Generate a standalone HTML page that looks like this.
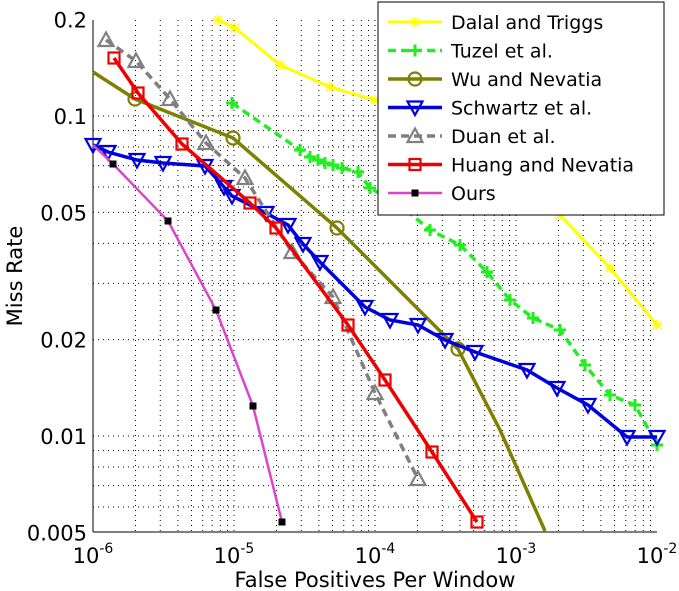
<!DOCTYPE html><html><head><style>body{margin:0;background:#fff}svg{display:block}text{font-family:"DejaVu Sans","Liberation Sans",sans-serif}</style></head><body>
<svg id="s" width="679" height="591" xmlns="http://www.w3.org/2000/svg"></svg>
<script>
const s=document.getElementById('s');let h='';
const X0=93,X1=657,Y0=20,Y1=532;
const xp=v=>X0+(Math.log10(v)+6)*141, yp=v=>116-(Math.log10(v)+1)*320;
h+=`<rect x="${X0}" y="${Y0}" width="${X1-X0}" height="${Y1-Y0}" fill="#fff"/>`;
for(let d=-6;d<-2;d++)for(let m=1;m<10;m++){const x=xp(m*10**d);if(x>X0+1&&x<X1-1)h+=`<line x1="${x}" y1="${Y0}" x2="${x}" y2="${Y1}" stroke="#000" stroke-width="1" stroke-dasharray="1,4"/>`;}
[0.005,0.006,0.007,0.008,0.009,0.01,0.02,0.03,0.04,0.05,0.06,0.07,0.08,0.09,0.1,0.2].forEach(v=>{const y=yp(v);if(y>Y0+1&&y<Y1-1)h+=`<line x1="${X0}" y1="${y}" x2="${X1}" y2="${y}" stroke="#000" stroke-width="1" stroke-dasharray="1,4"/>`;});
h+=`<line x1="${X0}" y1="${Y0}" x2="${X0}" y2="${Y1}" stroke="#000"/><line x1="${X0}" y1="${Y1}" x2="${X1}" y2="${Y1}" stroke="#000"/>`;
[[0.2,'0.2'],[0.1,'0.1'],[0.05,'0.05'],[0.02,'0.02'],[0.01,'0.01'],[0.005,'0.005']].forEach(([v,t])=>h+=`<text x="87" y="${yp(v)+8}" font-size="21" text-anchor="end">${t}</text>`);
for(let d=-6;d<=-2;d++){const x=xp(10**d);h+=`<text x="${x}" y="563" font-size="21" text-anchor="middle">10<tspan dy="-10" font-size="14">${d}</tspan></text>`;}
h+=`<text x="375" y="587" font-size="21" text-anchor="middle">False Positives Per Window</text>`;
h+=`<text transform="translate(22,276) rotate(-90)" font-size="21" text-anchor="middle">Miss Rate</text>`;
const mk=(t,x,y,c)=>{switch(t){
case'x':return `<path d="M${x-5} ${y}H${x+5}M${x} ${y-5}V${y+5}M${x-4} ${y-4}L${x+4} ${y+4}M${x-4} ${y+4}L${x+4} ${y-4}" stroke="${c}" stroke-width="1.5"/>`;
case'+':return `<path d="M${x-6} ${y}H${x+6}M${x} ${y-6}V${y+6}" stroke="${c}" stroke-width="3"/>`;
case'o':return `<circle cx="${x}" cy="${y}" r="6.5" fill="none" stroke="${c}" stroke-width="2.2"/>`;
case'v':return `<path d="M${x-7.5} ${y-6}H${x+7.5}L${x} ${y+7.5}Z" fill="none" stroke="${c}" stroke-width="2.2"/>`;
case'^':return `<path d="M${x-7.5} ${y+6}H${x+7.5}L${x} ${y-7.5}Z" fill="none" stroke="${c}" stroke-width="2.2"/>`;
case's':return `<rect x="${x-5.5}" y="${y-5.5}" width="11" height="11" fill="none" stroke="${c}" stroke-width="2.2"/>`;
case'b':return `<rect x="${x-3.5}" y="${y-3.5}" width="7" height="7" fill="#000"/>`;}};
const series=[
['#ffff00','x','',3,[[218,20],[235,28],[280,65],[330,87],[375,100],[420,120],[560,215],[610,268],[657,325]]],
['#22ee22','+','8,5',3.5,[[232,103],[300,150],[310,157],[318,160],[325,163],[333,165],[342,168],[358,172],[370,188],[400,205],[430,230],[460,245],[487,272],[510,300],[533,318],[560,330],[585,365],[610,395],[635,405],[657,445]]],
['#808000','o','',3.5,[[93,72],[135,99],[233,138],[337,228],[458,349],[500,430],[545,531]],[1,2,3,4]],
['#0000dd','v','',3.5,[[93,145],[108,152],[137,160],[163,163],[205,166],[224,187],[232,196],[266,213],[288,225],[303,244],[320,262],[365,307],[390,320],[418,325],[445,340],[475,352],[527,370],[557,388],[588,405],[627,437],[657,437]]],
['#808080','^','8,5',3.5,[[106,40],[136,61],[170,99],[206,143],[245,178],[292,252],[333,297],[375,393],[418,479]]],
['#ee0000','s','',3.5,[[114,58],[138,93],[182,144],[250,203],[276,228],[348,325],[385,380],[432,452],[477,522]]],
['#dd44cc','b','',2.5,[[93,145],[113,164],[168,221],[216,310],[253,406],[282,522]],[1,2,3,4,5]]];
series.forEach(([c,m,da,w,p,idx])=>{h+=`<polyline points="${p.map(q=>q.join(',')).join(' ')}" fill="none" stroke="${c}" stroke-width="${w}" ${da?`stroke-dasharray="${da}"`:''}/>`;
p.forEach((q,i)=>{if(idx?idx.includes(i):true)h+=mk(m,q[0],q[1],c);});});
h+=`<rect x="378" y="2" width="286" height="213" fill="#fff" stroke="#000"/>`;
const names=['Dalal and Triggs','Tuzel et al.','Wu and Nevatia','Schwartz et al.','Duan et al.','Huang and Nevatia','Ours'];
series.forEach(([c,m,da,w],i)=>{const y=22+i*28.5;h+=`<line x1="388" y1="${y}" x2="442" y2="${y}" stroke="${c}" stroke-width="${w}" ${da?`stroke-dasharray="${da}"`:''}/>`+mk(m,415,y,c)+`<text x="451" y="${y+7}" font-size="19">${names[i]}</text>`;});
s.innerHTML=h;
</script></body></html>
